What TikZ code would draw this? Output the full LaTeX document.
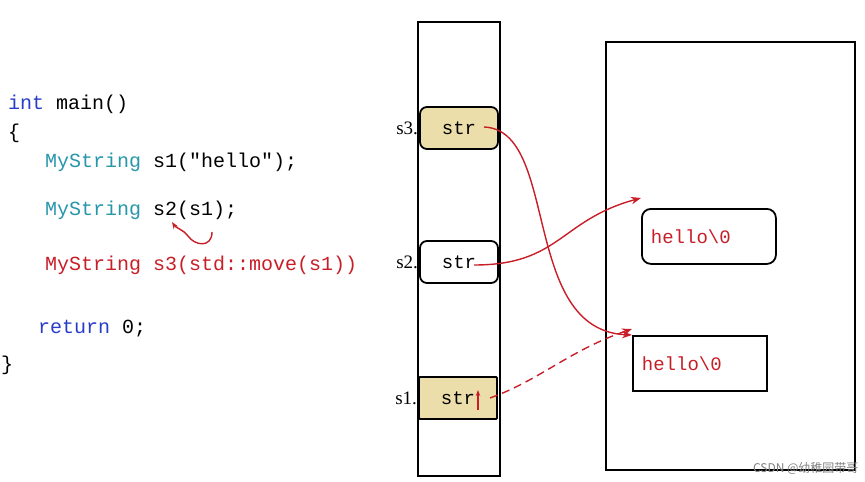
\documentclass[tikz,border=0pt]{standalone}
\usepackage{fontspec}
\setmonofont{Liberation Mono}
\newfontfamily\cjk{Noto Sans CJK SC}
\newfontfamily\labf{Liberation Serif}
\usetikzlibrary{arrows.meta}
\definecolor{kw}{RGB}{40,60,200}
\definecolor{ty}{RGB}{40,150,170}
\definecolor{rd}{RGB}{200,30,40}
\definecolor{tan}{RGB}{236,222,170}
\tikzset{
 code/.style={anchor=west,font=\ttfamily\fontsize{20}{22}\selectfont,inner sep=0},
 cell/.style={draw,line width=1.8pt,rounded corners=7pt,minimum width=78,minimum height=42,font=\ttfamily\fontsize{19}{22}\selectfont},
 lab/.style={anchor=east,font=\labf\fontsize{19}{22}\selectfont,inner sep=1pt},
 heap/.style={draw,line width=1.8pt,text=rd,font=\ttfamily\fontsize{19}{22}\selectfont,minimum width=134,minimum height=55,anchor=north west,align=left,text width=116},
 rarr/.style={draw=rd,line width=1.4pt,-{Stealth[length=10pt]}}
}
\begin{document}
\begin{tikzpicture}[x=1pt,y=-1pt]
\useasboundingbox (0,0) rectangle (865,482);
\node[code] (l1) at (8,104) {\textcolor{kw}{int} main()};
\node[code] (l2) at (8,133) {\{};
\node[code] (l3) at (45,162) {\textcolor{ty}{MyString} s1("hello");};
\node[code] (l4) at (45,210) {\textcolor{ty}{MyString} s2(s1);};
\node[code,text=rd] (l5) at (45,265) {MyString s3(std::move(s1))};
\node[code] (l6) at (38,329) {\textcolor{kw}{return} 0;};
\node[code] (l7) at (1,365) {\}};
\draw[draw=rd,line width=1.4pt,-{Stealth[length=7pt]}] (212,232) .. controls (212,248) and (195,246) .. (188,236) .. controls (184,230) and (176,228) .. (172,222);
\draw[line width=1.8pt] (418,22) rectangle (500,476);
\draw[line width=1.8pt] (606,42) rectangle (855,470);
\node[cell,fill=tan] (s3) at (459,128) {str};
\node[cell] (s2) at (459,262) {str};
\node[cell,fill=tan,rounded corners=1pt] (s1) at (458,398) {str\hspace{8pt}};
\node[lab] at (s3.west) {s3.};
\node[lab] at (s2.west) {s2.};
\node[lab] at (s1.west) {s1.};
\node[heap,rounded corners=9pt] (h1) at (641,208) {hello\textbackslash 0};
\node[heap] (h2) at (632,335) {hello\textbackslash 0};
\coordinate (a3) at (484,127);
\coordinate (a2) at (474,265);
\coordinate (a1) at (490,398);
\draw[rarr] (a3) .. controls (560,130) and (520,330) .. (h2.north west);
\draw[rarr] (a2) .. controls (560,265) and (560,220) .. ([yshift=10]h1.north west);
\draw[rarr,dashed,dash pattern=on 8pt off 5pt] (a1) .. controls (540,380) and (570,350) .. ([yshift=6]h2.north west);
\draw[draw=rd,line width=1.4pt,-{Stealth[length=6pt]}] (478,410) -- (478,390);
\node[anchor=south east,text=gray,font=\cjk\fontsize{12}{14}\selectfont] at (862,478) {CSDN @幼稚园带哥};
\end{tikzpicture}
\end{document}
